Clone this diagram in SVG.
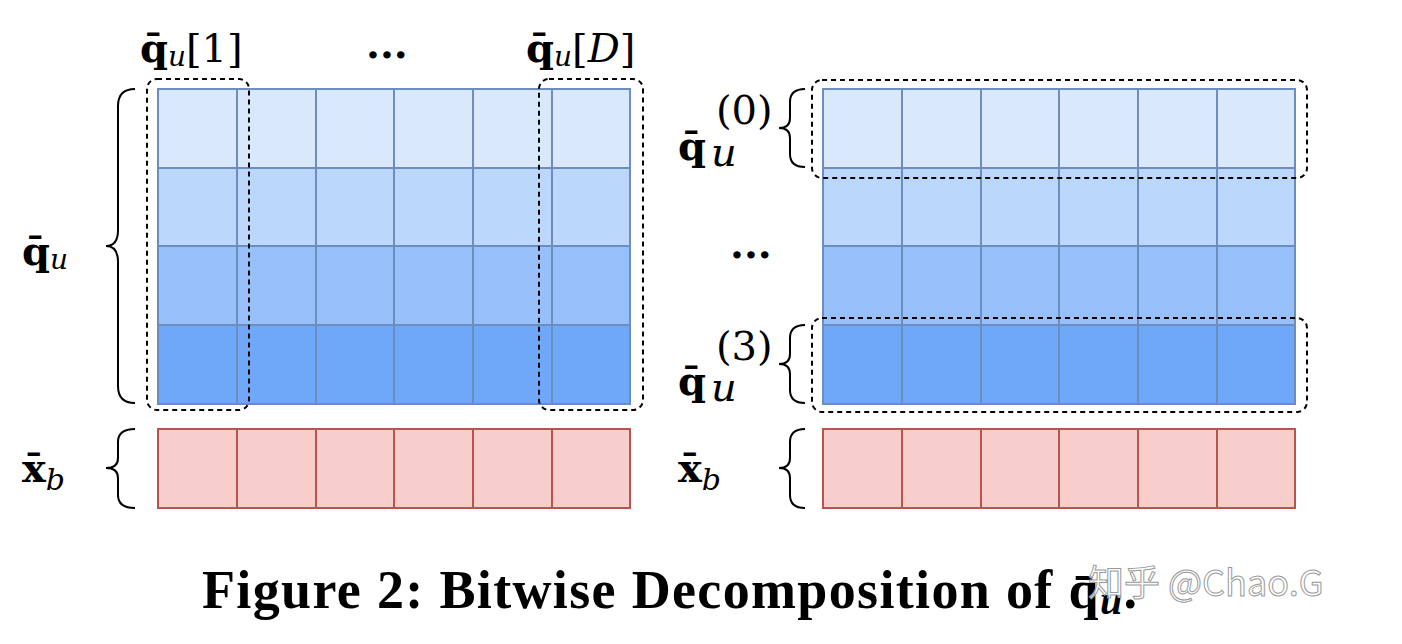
<svg xmlns="http://www.w3.org/2000/svg" width="1402" height="644" viewBox="0 0 1402 644">
<style>
.c{stroke:#6c8ebf;stroke-width:2}
.r0{fill:#dae8fc}.r1{fill:#bcd7fc}.r2{fill:#97c0fa}.r3{fill:#6fa7f9}
.red{fill:#f8cecc;stroke:#b85450;stroke-width:2}
.d{fill:none;stroke:#000;stroke-width:2;stroke-dasharray:5,4}
.b{fill:none;stroke:#000;stroke-width:2}
.m{font-family:"DejaVu Serif","Liberation Serif",serif;font-size:40px;fill:#000}
.cap{font-family:"Liberation Serif",serif;font-weight:bold;font-size:54px;fill:#000}
</style>
<defs>
<g id="row">
<rect x="0" y="0" width="79" height="79"/><rect x="79" y="0" width="79" height="79"/><rect x="158" y="0" width="78" height="79"/><rect x="236" y="0" width="79" height="79"/><rect x="315" y="0" width="79" height="79"/><rect x="394" y="0" width="78" height="79"/>
</g>
</defs>
<g id="leftGrid" class="c">
<use href="#row" x="158" y="89" class="r0"/><use href="#row" x="158" y="168" class="r1"/><use href="#row" x="158" y="246" class="r2"/><use href="#row" x="158" y="325" class="r3"/>
</g>
<g id="leftX" class="red"><use href="#row" x="158" y="429"/></g>
<g id="rightGrid" class="c">
<use href="#row" x="823" y="89" class="r0"/><use href="#row" x="823" y="168" class="r1"/><use href="#row" x="823" y="246" class="r2"/><use href="#row" x="823" y="325" class="r3"/>
</g>
<g id="rightX" class="red"><use href="#row" x="823" y="429"/></g>
<g id="connectors">
<rect class="d" x="147" y="79" width="102" height="331" rx="10"/>
<rect class="d" x="539" y="79" width="104" height="331" rx="10"/>
<rect class="d" x="812" y="80" width="495" height="98" rx="10"/>
<rect class="d" x="812" y="318" width="495" height="94" rx="10"/>
<path class="b" d="M135,89 Q118,89 118,106 L118,230 Q118,246 106,246 Q118,246 118,262 L118,386 Q118,403 135,403"/>
<path class="b" d="M135,429 Q118,429 118,442 L118,458 Q118,468 106,468 Q118,468 118,478 L118,495 Q118,508 135,508"/>
<path class="b" d="M805,89 Q790,89 790,102 L790,118 Q790,128 779,128 Q790,128 790,138 L790,154 Q790,167 805,167"/>
<path class="b" d="M805,325 Q790,325 790,338 L790,354 Q790,364 779,364 Q790,364 790,374 L790,390 Q790,403 805,403"/>
<path class="b" d="M805,429 Q790,429 790,442 L790,458 Q790,468 779,468 Q790,468 790,478 L790,495 Q790,508 805,508"/>
</g>
<g id="labels">
<text class="m" x="140" y="62" font-weight="bold">q̄<tspan font-weight="normal" font-style="italic" font-size="28" dy="4">u</tspan><tspan font-weight="normal" dy="-4">[1]</tspan></text>
<text class="m" x="366" y="58" font-weight="bold" font-size="46">...</text>
<text class="m" x="526" y="62" font-weight="bold">q̄<tspan font-weight="normal" font-style="italic" font-size="28" dy="4">u</tspan><tspan font-weight="normal" dy="-4">[<tspan font-style="italic">D</tspan>]</tspan></text>
<text class="m" x="22" y="265" font-weight="bold">q̄<tspan font-weight="normal" font-style="italic" font-size="28" dy="4">u</tspan></text>
<text class="m" x="22" y="482" font-weight="bold">x̄<tspan font-weight="normal" font-style="italic" font-size="30" dy="8">b</tspan></text>
<text class="m" x="678" y="160" font-weight="bold">q̄</text><text class="m" x="716" y="124" font-size="24">(0)</text><text class="m" x="711" y="166" font-size="28" font-style="italic">u</text>
<text class="m" x="730" y="258" font-weight="bold" font-size="46">...</text>
<text class="m" x="678" y="395" font-weight="bold">q̄</text><text class="m" x="716" y="360" font-size="24">(3)</text><text class="m" x="711" y="401" font-size="28" font-style="italic">u</text>
<text class="m" x="678" y="482" font-weight="bold">x̄<tspan font-weight="normal" font-style="italic" font-size="30" dy="8">b</tspan></text>
<text class="cap" x="202" y="608" textLength="935" lengthAdjust="spacing">Figure 2: Bitwise Decomposition of q̄<tspan font-style="italic" font-size="40" dy="6">u</tspan><tspan dy="-6">.</tspan></text>
<text x="1088" y="596" font-family="Noto Sans CJK SC,Noto Sans,sans-serif" font-size="36" fill="#fff" fill-opacity="0.75" stroke="#999" stroke-width="1">知乎 @Chao.G</text>
</g>
</svg>
